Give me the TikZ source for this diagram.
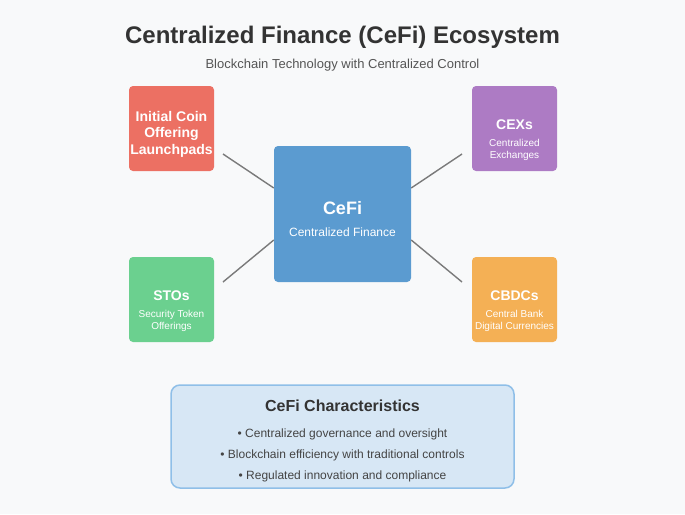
\documentclass[tikz,border=0pt]{standalone}
\usepackage{fontspec}
\setmainfont{Liberation Sans}
\begin{document}
\begin{tikzpicture}[x=1pt,y=-1pt,
  box/.style={draw=none,rounded corners=4pt,minimum width=85pt,minimum height=85pt,inner sep=0pt},
  txt/.style={anchor=base,inner sep=0pt,text=white},
  bigt/.style={txt,font=\fontsize{14}{16}\selectfont\bfseries},
  smallt/.style={txt,font=\fontsize{10}{12}\selectfont},
  conn/.style={draw=linegray,line width=1.4pt}
]
\definecolor{bgc}{HTML}{F8F9FA}
\definecolor{icoc}{HTML}{EC7063}
\definecolor{stoc}{HTML}{6BD08F}
\definecolor{cefic}{HTML}{5B9BD0}
\definecolor{cexc}{HTML}{AD7BC4}
\definecolor{cbdcc}{HTML}{F4B055}
\definecolor{linegray}{HTML}{7A7A7A}
\definecolor{charfill}{HTML}{D7E7F5}
\definecolor{chardraw}{HTML}{8FBFE8}
\definecolor{titlec}{HTML}{333333}
\definecolor{subc}{HTML}{555555}
\definecolor{bulc}{HTML}{444444}
\useasboundingbox (0,0) rectangle (685,514);
\fill[bgc] (0,0) rectangle (685,514);
% title
\node[anchor=base,inner sep=0pt,text=titlec,font=\fontsize{24}{28}\selectfont\bfseries] (title) at (342.5,43) {Centralized Finance (CeFi) Ecosystem};
\node[anchor=base,inner sep=0pt,text=subc,font=\fontsize{13}{15}\selectfont] (subtitle) at (342.5,68.5) {Blockchain Technology with Centralized Control};
% boxes
\node[box,fill=icoc] (ico) at (171.5,128.5) {};
\node[box,fill=stoc] (sto) at (171.5,299.5) {};
\node[box,fill=cexc] (cex) at (514.5,128.5) {};
\node[box,fill=cbdcc] (cbdc) at (514.5,299.5) {};
\node[box,fill=cefic,minimum width=137pt,minimum height=136pt] (cefi) at (342.5,214) {};
% texts
\node[bigt] (ico1) at (171.5,121) {Initial Coin};
\node[bigt] (ico2) at (171.5,137.5) {Offering};
\node[bigt] (ico3) at (171.5,154) {Launchpads};
\node[bigt] (sto1) at (171.5,300) {STOs};
\node[smallt] (sto2) at (171.5,317) {Security Token};
\node[smallt] (sto3) at (171.5,329.5) {Offerings};
\node[bigt] (cex1) at (514.5,129) {CEXs};
\node[smallt] (cex2) at (514.5,146) {Centralized};
\node[smallt] (cex3) at (514.5,158.5) {Exchanges};
\node[bigt] (cbdc1) at (514.5,300) {CBDCs};
\node[smallt] (cbdc2) at (514.5,317) {Central Bank};
\node[smallt] (cbdc3) at (514.5,329.5) {Digital Currencies};
\node[txt,font=\fontsize{18}{20}\selectfont\bfseries] (cefi1) at (342.5,214) {CeFi};
\node[txt,font=\fontsize{12}{14}\selectfont] (cefi2) at (342.5,236) {Centralized Finance};
% connector ends
\coordinate (c1) at (223,154);
\coordinate (c2) at (223,282);
\coordinate (c3) at (462,154);
\coordinate (c4) at (462,282);
\coordinate (k1) at (cefi.north west |- 0,188);
\coordinate (k2) at (cefi.north west |- 0,240);
\coordinate (k3) at (cefi.north east |- 0,188);
\coordinate (k4) at (cefi.north east |- 0,240);
\draw[conn] (c1) -- (k1);
\draw[conn] (c2) -- (k2);
\draw[conn] (k3) -- (c3);
\draw[conn] (k4) -- (c4);
% characteristics
\node[draw=chardraw,fill=charfill,line width=1.5pt,rounded corners=9pt,minimum width=343pt,minimum height=103pt,inner sep=0pt] (chars) at (342.5,436.5) {};
\node[anchor=base,inner sep=0pt,text=titlec,font=\fontsize{16}{18}\selectfont\bfseries] (ch0) at (342.5,411) {CeFi Characteristics};
\node[anchor=base,inner sep=0pt,text=bulc,font=\fontsize{12}{14}\selectfont] (ch1) at (342.5,437.5) {• Centralized governance and oversight};
\node[anchor=base,inner sep=0pt,text=bulc,font=\fontsize{12}{14}\selectfont] (ch2) at (342.5,458.5) {• Blockchain efficiency with traditional controls};
\node[anchor=base,inner sep=0pt,text=bulc,font=\fontsize{12}{14}\selectfont] (ch3) at (342.5,479.5) {• Regulated innovation and compliance};
\end{tikzpicture}
\end{document}
